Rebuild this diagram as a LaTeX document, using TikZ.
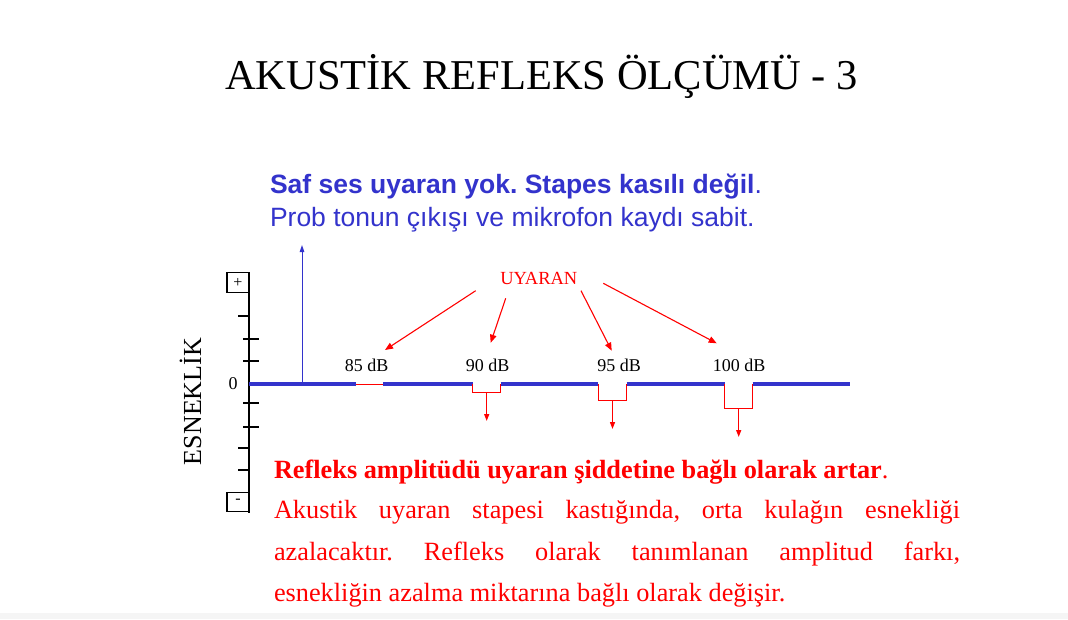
\documentclass[tikz,border=0pt]{standalone}
\usepackage{fontspec}
\setmainfont{Liberation Serif}
\newfontfamily\arialf{Liberation Sans}
\usetikzlibrary{arrows.meta}
\definecolor{sblue}{RGB}{51,51,204}
\definecolor{sred}{RGB}{255,0,0}
\frenchspacing
\begin{document}
\begin{tikzpicture}[x=1pt,y=-1pt,
  txt/.style={inner sep=0pt, outer sep=0pt},
  bluetxt/.style={txt, anchor=base west, text=sblue, font=\arialf\fontsize{26.5}{30}\selectfont},
  redtxt/.style={txt, anchor=base west, text=sred, font=\fontsize{26.3}{30}\selectfont},
  dblabel/.style={txt, anchor=base, font=\fontsize{18}{20}\selectfont},
  signbox/.style={draw, line width=1.1pt, minimum width=22pt, minimum height=19.5pt, inner sep=0pt, font=\fontsize{16}{18}\selectfont},
  axisline/.style={line width=1.3pt, black},
  tickl/.style={line width=1.2pt, black},
  level/.style={line width=4.5pt, sblue},
  redline/.style={line width=1.5pt, sred},
  redarrow/.style={line width=1.1pt, sred, -{Triangle[length=8pt,width=6.5pt]}},
  downarrow/.style={line width=1.3pt, sred, -{Triangle[length=7pt,width=5pt]}},
  bluearrow/.style={line width=1pt, sblue, -{Triangle[length=7pt,width=4.5pt]}}
]
\useasboundingbox (0,0) rectangle (1068,619);
\fill[white] (0,0) rectangle (1068,619);
\fill[black!4] (0,613) rectangle (1068,619);

% title
\node[txt, anchor=base, font=\fontsize{42.5}{50}\selectfont] (title) at (541.5,89) {AKUSTİK REFLEKS ÖLÇÜMÜ - 3};

% blue text
\node[bluetxt] (blue1) at (270,193) {\textbf{Saf ses uyaran yok. Stapes kasılı değil}.};
\node[bluetxt] (blue2) at (270,226.5) {Prob tonun çıkışı ve mikrofon kaydı sabit.};

% axis
\node[signbox] (plus) at (238,282.5) {+};
\node[signbox] (minus) at (238,501.8) {\raisebox{-3pt}{-}};
\coordinate (axtop) at (249,273);
\coordinate (axbot) at (249,513);
\draw[axisline] (axtop) -- (axbot);
\foreach \yy in {316,448,470} \draw[tickl] (238,\yy) -- (249,\yy);
\foreach \yy in {339,361,403,427} \draw[tickl] (243,\yy) -- (259,\yy);
\node[txt, font=\fontsize{18}{20}\selectfont] (zero) at (233,384) {0};
\node[txt, rotate=90, font=\fontsize{26}{30}\selectfont] (esn) at (190.5,401.5) {ESNEKLİK};

% level line
\draw[level] (249,384) -- (355.7,384);
\draw[level] (383.3,384) -- (472.7,384);
\draw[level] (500.7,384) -- (598.3,384);
\draw[level] (626.7,384) -- (724.7,384);
\draw[level] (752.7,384) -- (850,384);
\coordinate (vbot) at (302,384);
\coordinate (vtop) at (302,245);
\draw[bluearrow] (vbot) -- (vtop);

% responses
\draw[redline] (355.7,384.5) -- (383.3,384.5);
\draw[redline, line join=miter] (472.7,384) -- (472.7,392.3) -- (500.7,392.3) -- (500.7,384);
\draw[redline, line join=miter] (598.3,384) -- (598.3,400.7) -- (626.7,400.7) -- (626.7,384);
\draw[redline, line join=miter] (724.7,384) -- (724.7,408.3) -- (752.7,408.3) -- (752.7,384);
\coordinate (n90) at (486.7,392.3);  \coordinate (e90) at (486.7,421);
\coordinate (n95) at (612.5,400.7);  \coordinate (e95) at (612.5,429);
\coordinate (n100) at (738.7,408.3); \coordinate (e100) at (738.7,437);
\draw[downarrow] (n90) -- (e90);
\draw[downarrow] (n95) -- (e95);
\draw[downarrow] (n100) -- (e100);

% dB labels
\node[dblabel] (l85) at (366.7,371.7) {85 dB};
\node[dblabel] (l90) at (487.7,371.7) {90 dB};
\node[dblabel] (l95) at (619,371.7) {95 dB};
\node[dblabel] (l100) at (739,371.7) {100 dB};

% UYARAN
\node[txt, anchor=base, text=sred, font=\fontsize{18.5}{20}\selectfont] (uyaran) at (538.8,284) {UYARAN};
\coordinate (s1) at (475.7,290.7); \coordinate (t1) at (385,350);
\coordinate (s2) at (505.7,298.3); \coordinate (t2) at (490.7,342.7);
\coordinate (s3) at (581,290.7);   \coordinate (t3) at (611.7,350.7);
\coordinate (s4) at (603.3,283.3); \coordinate (t4) at (716.7,343.3);
\draw[redarrow] (s1) -- (t1);
\draw[redarrow] (s2) -- (t2);
\draw[redarrow] (s3) -- (t3);
\draw[redarrow] (s4) -- (t4);

% red text
\node[redtxt] (red0) at (274,478) {\textbf{Refleks amplitüdü uyaran şiddetine bağlı olarak artar}.};
\node[redtxt] (red1) at (274,518.5) {\makebox[686pt][s]{Akustik uyaran stapesi kastığında, orta kulağın esnekliği}};
\node[redtxt] (red2) at (274,560) {\makebox[686pt][s]{azalacaktır. Refleks olarak tanımlanan amplitud farkı,}};
\node[redtxt] (red3) at (274,601.5) {esnekliğin azalma miktarına bağlı olarak değişir.};
\end{tikzpicture}
\end{document}
